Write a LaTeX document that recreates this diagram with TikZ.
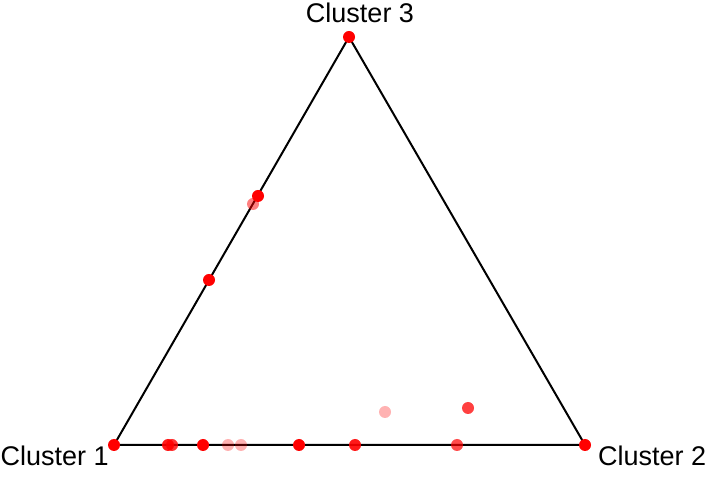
\documentclass[tikz,border=0pt]{standalone}
\usepackage{fontspec}
\setmainfont{Liberation Sans}
\begin{document}
\begin{tikzpicture}[x=1pt,y=1pt,
  dot/.style={circle,fill=red,draw=none,inner sep=0pt,minimum size=12pt},
  lbl/.style={inner sep=0pt,font=\fontsize{27}{31}\selectfont}]
\useasboundingbox (0,0) rectangle (711,478);
% Corners
\coordinate (c1) at (114,33);
\coordinate (c2) at (585,33);
\coordinate (c3) at (349,441);

% Triangle
\draw[line width=2pt,line join=round] (c1) -- (c2) -- (c3) -- cycle;

% Labels
\node[lbl,anchor=base] (l3) at (360,455) {Cluster 3};
\node[lbl,anchor=base west] (l1) at (0.5,12) {Cluster 1};
\node[lbl,anchor=base west] (l2) at (598,12) {Cluster 2};

% Points on edge 1-2
\node[dot,fill opacity=0.9] (p1) at (168,33) {};
\node[dot,fill opacity=0.8] (p2) at (172,33) {};
\node[dot] (p3) at (203,33) {};
\node[dot,fill opacity=0.3] (p4) at (228,33) {};
\node[dot,fill opacity=0.3] (p5) at (241,33) {};
\node[dot] (p6) at (299,33) {};
\node[dot,fill opacity=0.9] (p7) at (355,33) {};
\node[dot,fill opacity=0.7] (p8) at (457,33) {};

% Inner points
\node[dot,fill opacity=0.3] (p9) at (385,66) {};
\node[dot,fill opacity=0.75] (p10) at (468,70) {};

% Points on edge 1-3
\node[dot,fill opacity=0.5] (p11) at (253,274) {};
\node[dot] (p12) at (258,282) {};
\node[dot] (p13) at (209,198) {};

% Corner points
\node[dot] (v1) at (c1) {};
\node[dot] (v2) at (c2) {};
\node[dot] (v3) at (c3) {};
\end{tikzpicture}
\end{document}
